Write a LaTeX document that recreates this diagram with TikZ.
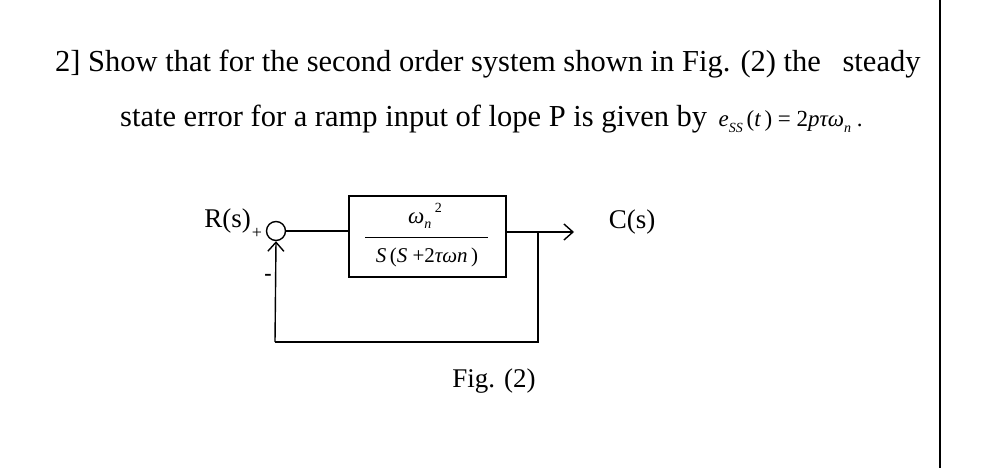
\documentclass[tikz,border=0pt]{standalone}
\usepackage{fontspec}
\setmainfont{Liberation Serif}
\usetikzlibrary{arrows.meta}
\newcommand{\lsub}[1]{\raisebox{-0.22em}{\fontsize{14}{14}\selectfont #1}}
\begin{document}
\begin{tikzpicture}[x=1pt,y=-1pt,
  ln/.style={draw=black,line width=1.4pt},
  arr/.style={ln,-{Straight Barb[length=9pt,width=16pt]}},
  big/.style={font=\fontsize{30.5}{36}\selectfont,inner sep=0},
  mid/.style={font=\fontsize{27}{32}\selectfont,inner sep=0}]
\useasboundingbox (0,0) rectangle (992,468);
\draw[line width=1.4pt] (940,0) -- (940,468);
\node[big,anchor=base west] (l1) at (55,72) {2] Show that for the second order system shown in Fig. (2) the\hspace{14pt} steady};
\node[big,anchor=base west] (l2) at (120,127) {state error for a ramp input of lope P is given by {\fontsize{23}{26}\selectfont\itshape\,e\lsub{SS}\,\upshape(\itshape t\,\upshape) = 2\itshape pτω\lsub{n}\upshape\ .}};
\node[ln,circle,minimum size=19pt,inner sep=0] (sum) at (276,231) {};
\node[ln,minimum width=157pt,minimum height=81pt,inner sep=0] (G) at (427.5,236.5) {};
\node[font=\fontsize{23}{26}\selectfont\itshape,inner sep=0] (num) at (425,216) {ω\lsub{n}\raisebox{0.5em}{\upshape\fontsize{14}{14}\selectfont\ 2}};
\draw[line width=1pt] (365,237) -- (488,237);
\node[font=\fontsize{21}{24}\selectfont\itshape,inner sep=0] (den) at (427,257) {S\,\upshape(\itshape S\upshape\ +2\itshape τωn\,\upshape)};
\node[mid,anchor=east] (R) at (251,221) {R(s)};
\node[font=\fontsize{18}{18}\selectfont,inner sep=0] (plus) at (257,233) {+};
\node[font=\bfseries\fontsize{22}{22}\selectfont,inner sep=0] (minus) at (268,277) {-};
\node[mid] (C) at (632,222) {C(s)};
\node[mid] (fig) at (494,381) {Fig. (2)};
\coordinate (tip) at (574,232);
\coordinate (br) at (538,232);
\coordinate (b1) at (538,342);
\coordinate (b2) at (275,342);
\draw[ln] (sum.east) -- (G.west |- sum.east);
\draw[arr] (G.east |- tip) -- (tip);
\draw[ln] (br) -- (b1) -- (b2);
\draw[arr] (b2) -- (sum.south);
\end{tikzpicture}
\end{document}
